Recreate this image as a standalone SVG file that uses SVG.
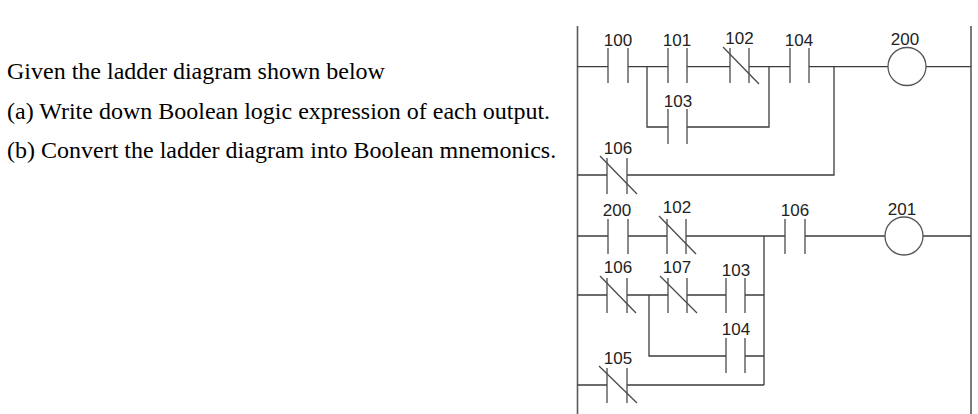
<svg xmlns="http://www.w3.org/2000/svg" width="978" height="414" viewBox="0 0 978 414">
<style>
.w{fill:none;stroke:#3c3c3c;stroke-width:1.3}
.c line,.s{stroke:#4a4a4a;stroke-width:1.3}
.r{stroke:#5a5a5a;stroke-width:1.6}
.coil{fill:#fff;stroke:#555;stroke-width:1.3}
.l{font:17px "Liberation Sans",Arial,sans-serif;fill:#222;text-anchor:middle}
.q{font:24px "Liberation Serif","Times New Roman",serif;fill:#000}
</style>
<rect width="978" height="414" fill="#fff"/>
<g id="question">
<text class="q" x="7" y="79">Given the ladder diagram shown below</text>
<text class="q" x="7" y="119">(a) Write down Boolean logic expression of each output.</text>
<text class="q" x="7" y="158">(b) Convert the ladder diagram into Boolean mnemonics.</text>
</g>
<g id="connectors">
<line class="r" x1="577.5" y1="26" x2="577.5" y2="414"/>
<line class="r" x1="971" y1="26" x2="971" y2="414"/>
<path class="w" d="M577.5 66.7H608M628 66.7H668M687 66.7H730M749 66.7H790M809 66.7H888M926 66.7H971"/>
<path class="w" d="M647 66.7V127H668M687 127H769V66.7"/>
<path class="w" d="M577.5 175H607M627 175H834V66.7"/>
<path class="w" d="M577.5 236H608M628 236H667M686 236H785M805 236H885M923 236H971"/>
<path class="w" d="M764 236V385"/>
<path class="w" d="M577.5 295H607M627 295H668M687 295H726M745 295H764"/>
<path class="w" d="M649 295V356H726M745 356H764"/>
<path class="w" d="M577.5 385H607M627 385H764"/>
</g>
<g id="contact-100" class="c"><line x1="608" y1="48" x2="608" y2="83"/><line x1="628" y1="48" x2="628" y2="83"/><text class="l" x="618" y="46">100</text></g>
<g id="contact-101" class="c"><line x1="668" y1="48" x2="668" y2="83"/><line x1="687" y1="48" x2="687" y2="83"/><text class="l" x="677" y="46">101</text></g>
<g id="contact-102-a" class="c"><line x1="730" y1="48" x2="730" y2="83"/><line x1="749" y1="48" x2="749" y2="83"/><line x1="723" y1="47" x2="759" y2="84"/><text class="l" x="739.500" y="44">102</text></g>
<g id="contact-104-a" class="c"><line x1="790" y1="48" x2="790" y2="83"/><line x1="809" y1="48" x2="809" y2="83"/><text class="l" x="799" y="46">104</text></g>
<g id="contact-103-a" class="c"><line x1="668" y1="109" x2="668" y2="144"/><line x1="687" y1="109" x2="687" y2="144"/><text class="l" x="678" y="107">103</text></g>
<g id="contact-106-a" class="c"><line x1="607" y1="158" x2="607" y2="194"/><line x1="627" y1="158" x2="627" y2="194"/><line x1="600" y1="156" x2="637" y2="194"/><text class="l" x="618" y="154">106</text></g>
<g id="coil-200"><circle class="coil" cx="907" cy="66.5" r="19"/><text class="l" x="905" y="45">200</text></g>
<g id="contact-200" class="c"><line x1="608" y1="219" x2="608" y2="254"/><line x1="628" y1="219" x2="628" y2="254"/><text class="l" x="617" y="216">200</text></g>
<g id="contact-102-b" class="c"><line x1="667" y1="219" x2="667" y2="254"/><line x1="686" y1="219" x2="686" y2="254"/><line x1="659" y1="216" x2="696" y2="254"/><text class="l" x="677" y="213">102</text></g>
<g id="contact-106-b" class="c"><line x1="785" y1="219" x2="785" y2="254"/><line x1="805" y1="219" x2="805" y2="254"/><text class="l" x="795" y="216">106</text></g>
<g id="coil-201"><circle class="coil" cx="904" cy="236" r="19"/><text class="l" x="902" y="215">201</text></g>
<g id="contact-106-c" class="c"><line x1="607" y1="278" x2="607" y2="313"/><line x1="627" y1="278" x2="627" y2="313"/><line x1="600" y1="276" x2="636" y2="313"/><text class="l" x="618" y="273">106</text></g>
<g id="contact-107" class="c"><line x1="668" y1="278" x2="668" y2="313"/><line x1="687" y1="278" x2="687" y2="313"/><line x1="660" y1="276" x2="697" y2="313"/><text class="l" x="677" y="273">107</text></g>
<g id="contact-103-b" class="c"><line x1="726" y1="278" x2="726" y2="313"/><line x1="745" y1="278" x2="745" y2="313"/><text class="l" x="736" y="276">103</text></g>
<g id="contact-104-b" class="c"><line x1="726" y1="338" x2="726" y2="373"/><line x1="745" y1="338" x2="745" y2="373"/><text class="l" x="736" y="335">104</text></g>
<g id="contact-105" class="c"><line x1="607" y1="368" x2="607" y2="403"/><line x1="627" y1="368" x2="627" y2="403"/><line x1="599" y1="366" x2="637" y2="403"/><text class="l" x="618" y="364">105</text></g>
</svg>
